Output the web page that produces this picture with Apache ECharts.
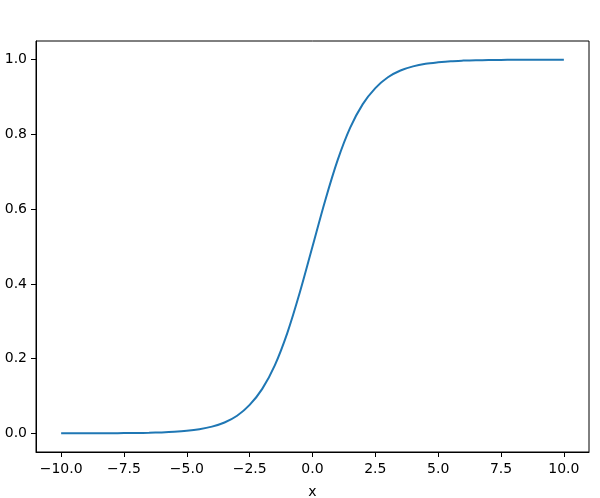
<!DOCTYPE html>
<html>
<head>
<meta charset="utf-8">
<script src="https://cdn.jsdelivr.net/npm/echarts@6/dist/echarts.min.js"></script>
<style>html,body{margin:0;padding:0;background:#fff}#c{width:600px;height:498px}</style>
</head>
<body>
<div id="c"></div>
<script>
// Values
var xValues = [-10,-9.5,-9,-8.5,-8,-7.5,-7,-6.5,-6,-5.5,-5,-4.5,-4,-3.5,-3,-2.5,-2,-1.5,-1,-0.5,0,0.5,1,1.5,2,2.5,3,3.5,4,4.5,5,5.5,6,6.5,7,7.5,8,8.5,9,9.5,10];
var yValues = [0.0000,0.0001,0.0001,0.0002,0.0003,0.0006,0.0009,0.0015,0.0025,0.0041,0.0067,0.011,0.018,0.029,0.047,0.076,0.119,0.182,0.269,0.378,0.500,0.622,0.731,0.818,0.881,0.924,0.953,0.971,0.982,0.989,0.993,0.996,0.9975,0.9985,0.999,0.9994,0.9997,0.9998,0.9999,0.9999,1.000];
var xTicks = [-10,-7.5,-5,-2.5,0,2.5,5,7.5,10];
var yTicks = [0,0.2,0.4,0.6,0.8,1.0];
var xName = 'x';

var data = xValues.map(function(x,i){return [x,yValues[i]];});
function fmt(v){ return (v<0?'\u2212':'') + Math.abs(v).toFixed(1); }
var font = 'DejaVu Sans';
var chart = echarts.init(document.getElementById('c'));
chart.setOption({
  animation:false,
  backgroundColor:'#fff',
  grid:{left:36,right:11,top:41,bottom:46,outerBoundsMode:'none',containLabel:false,show:true,borderColor:'#000',borderWidth:1,backgroundColor:'transparent'},
  xAxis:{
    type:'value',min:-11,max:11,
    name:xName,nameLocation:'middle',nameGap:33,
    nameTextStyle:{fontFamily:font,fontSize:14,color:'#000'},
    axisLine:{show:true,onZero:false,lineStyle:{color:'#000',width:1}},
    axisTick:{show:true,length:5,customValues:xTicks,lineStyle:{color:'#000'}},
    axisLabel:{customValues:xTicks,formatter:fmt,margin:10,fontFamily:font,fontSize:14,color:'#000'},
    splitLine:{show:false}
  },
  yAxis:{
    type:'value',min:-0.05,max:1.05,
    axisLine:{show:true,onZero:false,lineStyle:{color:'#000',width:1}},
    axisTick:{show:true,length:5,customValues:yTicks,lineStyle:{color:'#000'}},
    axisLabel:{customValues:yTicks,formatter:function(v){return fmt(v);},margin:9,fontFamily:font,fontSize:14,color:'#000'},
    splitLine:{show:false}
  },
  series:[{
    type:'line',data:data,smooth:0.3,showSymbol:false,
    lineStyle:{color:'#1f77b4',width:2},
    itemStyle:{color:'#1f77b4'}
  }]
});
</script>
</body>
</html>
